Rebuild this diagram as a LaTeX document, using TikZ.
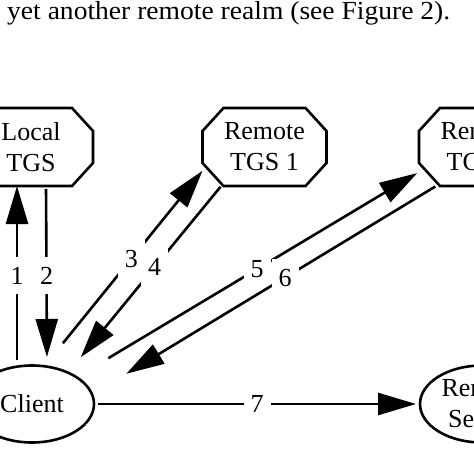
\documentclass[tikz,border=0pt]{standalone}
\usepackage{fontspec}
\setmainfont{Liberation Serif}
\usepackage{tikz}
\usetikzlibrary{arrows.meta, positioning, shapes}

\begin{document}
\begin{tikzpicture}[x=1pt, y=-1pt,
	tgs/.style={rectangle, minimum width=124pt, minimum height=78pt, inner sep=2pt, outer sep=0pt, align=center, font=\fontsize{26}{31}\selectfont,
		append after command={\pgfextra{\draw[line width=2.6pt]
			([xshift=21pt]\tikzlastnode.north west) -- ([xshift=-21pt]\tikzlastnode.north east) -- ([yshift=-23pt]\tikzlastnode.north east) -- ([yshift=23pt]\tikzlastnode.south east) -- ([xshift=-21pt]\tikzlastnode.south east) -- ([xshift=21pt]\tikzlastnode.south west) -- ([yshift=23pt]\tikzlastnode.south west) -- ([yshift=-23pt]\tikzlastnode.north west) -- cycle;}}},
	host/.style={draw, line width=2.6pt, ellipse, minimum width=124pt, minimum height=77pt, inner sep=1pt, outer sep=0pt, align=center, font=\fontsize{26}{31}\selectfont},
	msg/.style={line width=2.6pt, black, -{Triangle[length=38pt, width=22pt]}},
	num/.style={fill=white, inner xsep=7pt, inner ysep=10pt, font=\fontsize{26}{31}\selectfont}
	]
	\useasboundingbox (0,0) rectangle (474,474);
	\fill[white] (0,0) rectangle (474,474);
	\clip (0,0) rectangle (474,474);

	\node [anchor=base west, inner sep=0pt, font=\fontsize{26}{31}\selectfont](caption) at (7,19) {\resizebox{443pt}{!}{\scalebox{1}[0.945]{yet another remote realm (see Figure 2).}}};

	\node [tgs](local) at (31,147) {Local\\TGS};
	\node [tgs](tgs1) [right of=local, node distance=233.5pt] {Remote\\TGS 1};
	\node [tgs](tgs2) [right of=tgs1, node distance=216.5pt] {Remote\\TGS 2};
	\node [host](client) at (32,404) {Client};
	\node [host](server) [right of=client, node distance=450pt] {Remote\\Server};

	\draw [msg, shorten <=5.5pt] ([xshift=-15pt]client.north) -- ([xshift=-14pt]local.south) node[num, midway] {1};
	\draw [msg, shorten <=3pt, shorten >=8.5pt] ([xshift=15pt]local.south) -- ([xshift=15pt]client.north) node[num, midway] {2};
	\draw [msg, shorten <=29.6pt] (client.72) -- (tgs1.201.8) node[num, pos=0.55] {3};
	\draw [msg, shorten <=1pt, shorten >=20pt] (tgs1.222) -- (client.41.8) node[num, pos=0.435] {4};
	\draw [msg, shorten <=37pt, shorten >=2pt] (client.31.4) -- (tgs2.202.1) node[num, pos=0.527] {5};
	\draw [msg, shorten <=1pt, shorten >=40pt] (tgs2.221) -- (client.9.9) node[num, pos=0.439] {6};
	\draw [msg, shorten <=4pt, shorten >=4pt] (client) -- (server) node[num, midway] {7};
\end{tikzpicture}
\end{document}
